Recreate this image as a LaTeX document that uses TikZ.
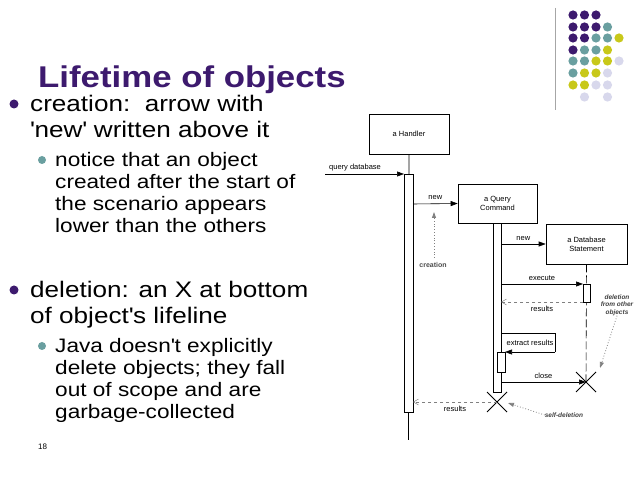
\documentclass[tikz,border=0pt]{standalone}
\usepackage{fontspec}
\setmainfont{Liberation Sans}
\newfontfamily\wide[FakeStretch=1.16]{Liberation Sans}
\usetikzlibrary{arrows.meta}
\definecolor{pur}{HTML}{3D1A6E}
\definecolor{tea}{HTML}{6A9FA0}
\definecolor{yel}{HTML}{C8C81A}
\definecolor{lav}{HTML}{D8D8EC}
\begin{document}
\begin{tikzpicture}[x=1pt,y=-1pt,
  obj/.style={draw,line width=0.6pt,font=\fontsize{7.5}{9}\selectfont,align=center,inner sep=0},
  act/.style={draw,line width=0.6pt,fill=white},
  msg/.style={line width=0.6pt,-{Triangle[length=7pt,width=5pt]}},
  ret/.style={line width=0.5pt,dashed,gray,-{Straight Barb[length=5pt,width=6pt]}},
  note/.style={gray,dotted,line width=0.8pt,-{Triangle[length=6pt,width=4pt]}},
  lab/.style={font=\fontsize{7.5}{8}\selectfont,inner sep=1pt},
  ital/.style={font=\fontsize{6.5}{7.5}\selectfont\itshape\bfseries,text=black!75,align=center,inner sep=0},
  big/.style={anchor=base west,font=\wide\fontsize{22.5}{22}\selectfont,inner sep=0},
  sml/.style={anchor=base west,font=\wide\fontsize{19.5}{19}\selectfont,inner sep=0}]
\useasboundingbox (0,0) rectangle (638,478);
\fill[white] (0,0) rectangle (638,478);
% dots
\draw[gray!70,line width=1pt] (555,8) -- (555,110);
\foreach \r/\cols in {15/{pur,pur,pur},27/{pur,pur,pur,tea},38/{pur,pur,tea,tea,yel},50/{pur,tea,tea,yel},61/{tea,tea,yel,yel,lav},73/{tea,yel,yel,lav},85/{yel,yel,lav,lav}}{
  \foreach \c [count=\i from 0] in \cols {
    \fill[\c] (573+11.5*\i,\r) circle (4.6);
  }}
\fill[lav] (584.5,97) circle (4.6);
\fill[lav] (607.5,97) circle (4.6);
% text
\node[anchor=base west,inner sep=0,text=pur,font=\wide\fontsize{30}{30}\selectfont\bfseries] (title) at (38,88) {Lifetime of objects};
\fill[pur] (14,104) circle (4.5);
\node[big] (b1) at (30,112) {creation:\ \ arrow with};
\node[big] (b1b) at (30,138) {\textquotesingle new\textquotesingle{} written above it};
\fill[tea] (42,160) circle (4);
\node[sml] (s1) at (55,167) {notice that an object};
\node[sml] (s2) at (55,189) {created after the start of};
\node[sml] (s3) at (55,211) {the scenario appears};
\node[sml] (s4) at (55,233) {lower than the others};
\fill[pur] (14,290) circle (4.5);
\node[big] (b2) at (30,298) {deletion: an X at bottom};
\node[big] (b2b) at (30,324) {of object\textquotesingle s lifeline};
\fill[tea] (42,346) circle (4);
\node[sml] (t1) at (55,353) {Java doesn\textquotesingle t explicitly};
\node[sml] (t2) at (55,375) {delete objects; they fall};
\node[sml] (t3) at (55,397) {out of scope and are};
\node[sml] (t4) at (55,419) {garbage-collected};
\node[anchor=west,inner sep=0,font=\fontsize{8}{8}\selectfont] (pg) at (38,447) {18};
% objects
\node[obj,minimum width=80,minimum height=40] (h) at (409,134) {a Handler};
\node[obj,minimum width=79,minimum height=39] (q) at (497.5,203.5) {a Query\\Command};
\node[obj,minimum width=81,minimum height=40] (d) at (586.5,244) {a Database\\Statement};
% lifelines
\draw[line width=0.6pt] (h.south) -- (408.5,440);
\draw[act] (404,174) rectangle (413,412);
\draw[act] (493,223) rectangle (501,392);
\draw[line width=0.6pt,dash pattern=on 8pt off 3pt] (d.south) -- (586,382);
\draw[act] (583,284) rectangle (590,302);
\draw[act] (497,352) rectangle (505,372);
% messages
\coordinate (qs) at (325,174);
\draw[msg] (qs) -- (404,174) node[lab,pos=0.38,above=2pt] {query database};
\draw[msg] (413,204) -- (q.west) node[lab,midway,above=3pt] {new};
\draw[note] (434,258) -- (434,212);
\node[lab,font=\fontsize{7}{8}\selectfont\bfseries,text=black!70] (cr) at (433,265) {creation};
\draw[msg] (501,244) -- (d.west) node[lab,midway,above=2pt] {new};
\draw[msg] (501,284) -- (583,284) node[lab,midway,above=2pt] {execute};
\draw[ret] (583,302) -- (501,302) node[lab,black,midway,below=3pt] {results};
\draw[line width=0.6pt] (501,333) -- (555,333) -- (555,352);
\draw[msg] (555,352) -- (505,352);
\node[lab] (er) at (530,343) {extract results};
\draw[msg] (501,382) -- (586,382) node[lab,midway,above=2pt] {close};
\draw[line width=0.9pt] (576,372) -- (596,392) (576,392) -- (596,372);
\draw[line width=0.9pt] (487,392) -- (507,412) (487,412) -- (507,392);
\draw[ret] (497,402) -- (413,402) node[lab,black,midway,below=3pt] {results};
\node[ital] (sd) at (564,415) {self-deletion};
\draw[note] (sd.west) -- (508,403);
\node[ital] (dfo) at (617,305) {deletion\\from other\\objects};
\draw[note] (dfo.south) -- (600,368);
\end{tikzpicture}
\end{document}
